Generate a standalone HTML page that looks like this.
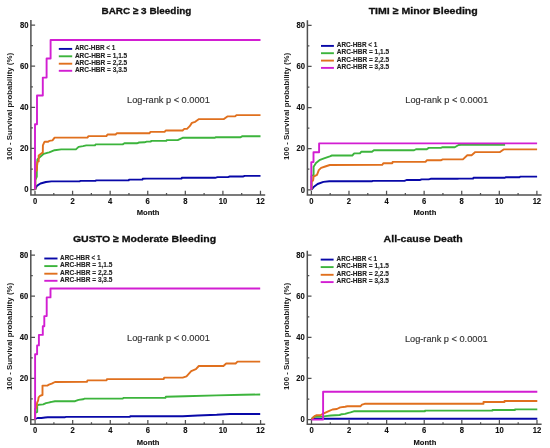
<!DOCTYPE html>
<html><head><meta charset="utf-8"><style>
html,body{margin:0;padding:0;background:#fff;}
svg{display:block;}
text{font-family:"Liberation Sans", sans-serif;}
.tk{font-size:8.3px;font-weight:bold;fill:#111;stroke:#111;stroke-width:0.12px;}
.mo{font-size:7.6px;font-weight:bold;fill:#111;stroke:#111;stroke-width:0.12px;}
.yt{font-size:7.8px;font-weight:bold;fill:#1a1a1a;}
.ti{font-size:9.8px;font-weight:bold;fill:#111;stroke:#111;stroke-width:0.3px;}
.lg{font-size:6.8px;font-weight:bold;fill:#222;stroke:#222;stroke-width:0.12px;}
.lr{font-size:9.4px;fill:#333;stroke:#333;stroke-width:0.15px;}
</style></head><body>
<div style="will-change:transform;width:550px;height:448px;background:#fff"><svg width="550" height="448" viewBox="0 0 550 448">
<rect width="550" height="448" fill="#fff"/>
<path d="M30.9 20V194.9H265.2" fill="none" stroke="#505050" stroke-width="1.5"/>
<path d="M30.9 189.6h4.2M30.9 169.04h2M30.9 148.48h4.2M30.9 127.92h2M30.9 107.36h4.2M30.9 86.8h2M30.9 66.24h4.2M30.9 45.68h2M30.9 25.12h4.2M35 194.9v-4.2M53.79 194.9v-2M72.58 194.9v-4.2M91.37 194.9v-2M110.16 194.9v-4.2M128.95 194.9v-2M147.74 194.9v-4.2M166.53 194.9v-2M185.32 194.9v-4.2M204.11 194.9v-2M222.9 194.9v-4.2M241.69 194.9v-2M260.48 194.9v-4.2" fill="none" stroke="#505050" stroke-width="1.25"/>
<text x="28.4" y="192.4" text-anchor="end" class="tk" textLength="4.25" lengthAdjust="spacingAndGlyphs">0</text>
<text x="28.4" y="151.28" text-anchor="end" class="tk" textLength="8.5" lengthAdjust="spacingAndGlyphs">20</text>
<text x="28.4" y="110.16" text-anchor="end" class="tk" textLength="8.5" lengthAdjust="spacingAndGlyphs">40</text>
<text x="28.4" y="69.04" text-anchor="end" class="tk" textLength="8.5" lengthAdjust="spacingAndGlyphs">60</text>
<text x="28.4" y="27.92" text-anchor="end" class="tk" textLength="8.5" lengthAdjust="spacingAndGlyphs">80</text>
<text x="35" y="204" text-anchor="middle" class="tk" textLength="4.25" lengthAdjust="spacingAndGlyphs">0</text>
<text x="72.58" y="204" text-anchor="middle" class="tk" textLength="4.25" lengthAdjust="spacingAndGlyphs">2</text>
<text x="110.16" y="204" text-anchor="middle" class="tk" textLength="4.25" lengthAdjust="spacingAndGlyphs">4</text>
<text x="147.74" y="204" text-anchor="middle" class="tk" textLength="4.25" lengthAdjust="spacingAndGlyphs">6</text>
<text x="185.32" y="204" text-anchor="middle" class="tk" textLength="4.25" lengthAdjust="spacingAndGlyphs">8</text>
<text x="222.9" y="204" text-anchor="middle" class="tk" textLength="8.5" lengthAdjust="spacingAndGlyphs">10</text>
<text x="260.48" y="204" text-anchor="middle" class="tk" textLength="8.5" lengthAdjust="spacingAndGlyphs">12</text>
<text x="148.1" y="215.2" text-anchor="middle" class="mo">Month</text>
<text transform="translate(11.6 106.6) rotate(-90)" text-anchor="middle" class="yt" textLength="107.2" lengthAdjust="spacingAndGlyphs">100 - Survival probability (%)</text>
<text x="146.4" y="14.2" text-anchor="middle" class="ti" textLength="89.8" lengthAdjust="spacingAndGlyphs">BARC ≥ 3 Bleeding</text>
<path d="M58.8 48.9H72.2" stroke="#0808a8" stroke-width="1.9"/>
<text x="74.9" y="50.1" class="lg" textLength="40.5" lengthAdjust="spacingAndGlyphs">ARC-HBR &lt; 1</text>
<path d="M58.8 56.3H72.2" stroke="#3cb43c" stroke-width="1.9"/>
<text x="74.9" y="57.5" class="lg" textLength="52.3" lengthAdjust="spacingAndGlyphs">ARC-HBR = 1,1.5</text>
<path d="M58.8 63.7H72.2" stroke="#e0701e" stroke-width="1.9"/>
<text x="74.9" y="64.9" class="lg" textLength="52.3" lengthAdjust="spacingAndGlyphs">ARC-HBR = 2,2.5</text>
<path d="M58.8 70.8H72.2" stroke="#d21ed2" stroke-width="1.9"/>
<text x="74.9" y="72" class="lg" textLength="52.3" lengthAdjust="spacingAndGlyphs">ARC-HBR = 3,3.5</text>
<text x="127" y="102.7" class="lr" textLength="82.8" lengthAdjust="spacingAndGlyphs">Log-rank p &lt; 0.0001</text>
<path d="M35.3 189.3 36 187.5 37.2 185.6 40.5 183.5 45.9 182 51.4 181.4 79.7 181.4 80.2 180.9 95.5 180.9 95.8 180.4 128.7 180.4 129 179.6 142.4 179.6 142.7 178.8 146.6 178.6 181.5 178.6 181.8 177.8 215.1 177.8 217.5 177.1 227.9 177.1 229.7 176.5 243 176.5 244.8 175.9 260.5 175.9" fill="none" stroke="#0808a8" stroke-width="1.9" stroke-linejoin="round"/>
<path d="M35.3 189.5 35.3 180 36.8 176.6 36.8 170.7 37.2 163 37.4 159.4 40 157 43.7 153.8 48 152.7 49.2 152.4 54.6 150.2 61.2 149.4 75.9 149.4 78.6 146.9 83 146.1 86.3 145.4 94.9 145.4 95.5 144.4 122.7 144.4 124.4 143.3 136.9 143.3 139.1 142.5 144.5 142.3 146.7 141.6 150.5 141.6 151.5 140.9 166.3 140.9 166.8 140.1 177.7 140.1 182.6 137.8 215.1 137.8 215.5 137.2 240.7 137.2 242.5 136.2 260.5 136.2" fill="none" stroke="#3cb43c" stroke-width="1.9" stroke-linejoin="round"/>
<path d="M35.3 189.5 35.3 171 36.7 170.5 37.4 162 38.7 161.4 38.7 155.4 42 153 42.8 152.8 42.9 145.3 44.3 142.2 44.6 141.8 48.1 141.8 49.2 140.9 52.5 140.4 54.6 137.6 87.4 137.6 88.5 136.1 106.4 136.1 107.5 134.5 115.6 134.5 116.7 133.3 149.4 133.3 150.5 131.9 164.6 131.9 165.7 130.5 182.6 130.5 184.3 128.9 187 128.9 189.7 126.2 191.9 122.9 195.2 121.8 199 119.1 223.9 119.1 227.4 116.4 234.9 116.4 236.7 115.1 260.5 115.1" fill="none" stroke="#e0701e" stroke-width="1.9" stroke-linejoin="round"/>
<path d="M35 189.6 35 124.3 37 124.3 37 95.5 42.8 95.5 42.8 77.6 46.6 77.6 46.6 58.5 50.6 58.5 50.6 40 260.5 40" fill="none" stroke="#d21ed2" stroke-width="1.9" stroke-linejoin="round"/>
<path d="M307.4 20.3V195H541.6" fill="none" stroke="#505050" stroke-width="1.5"/>
<path d="M307.4 189.8h4.2M307.4 169.24h2M307.4 148.68h4.2M307.4 128.12h2M307.4 107.56h4.2M307.4 87h2M307.4 66.44h4.2M307.4 45.88h2M307.4 25.32h4.2M311.4 195v-4.2M330.19 195v-2M348.98 195v-4.2M367.77 195v-2M386.56 195v-4.2M405.35 195v-2M424.14 195v-4.2M442.93 195v-2M461.72 195v-4.2M480.51 195v-2M499.3 195v-4.2M518.09 195v-2M536.88 195v-4.2" fill="none" stroke="#505050" stroke-width="1.25"/>
<text x="304.9" y="192.6" text-anchor="end" class="tk" textLength="4.25" lengthAdjust="spacingAndGlyphs">0</text>
<text x="304.9" y="151.48" text-anchor="end" class="tk" textLength="8.5" lengthAdjust="spacingAndGlyphs">20</text>
<text x="304.9" y="110.36" text-anchor="end" class="tk" textLength="8.5" lengthAdjust="spacingAndGlyphs">40</text>
<text x="304.9" y="69.24" text-anchor="end" class="tk" textLength="8.5" lengthAdjust="spacingAndGlyphs">60</text>
<text x="304.9" y="28.12" text-anchor="end" class="tk" textLength="8.5" lengthAdjust="spacingAndGlyphs">80</text>
<text x="311.4" y="204.1" text-anchor="middle" class="tk" textLength="4.25" lengthAdjust="spacingAndGlyphs">0</text>
<text x="348.98" y="204.1" text-anchor="middle" class="tk" textLength="4.25" lengthAdjust="spacingAndGlyphs">2</text>
<text x="386.56" y="204.1" text-anchor="middle" class="tk" textLength="4.25" lengthAdjust="spacingAndGlyphs">4</text>
<text x="424.14" y="204.1" text-anchor="middle" class="tk" textLength="4.25" lengthAdjust="spacingAndGlyphs">6</text>
<text x="461.72" y="204.1" text-anchor="middle" class="tk" textLength="4.25" lengthAdjust="spacingAndGlyphs">8</text>
<text x="499.3" y="204.1" text-anchor="middle" class="tk" textLength="8.5" lengthAdjust="spacingAndGlyphs">10</text>
<text x="536.88" y="204.1" text-anchor="middle" class="tk" textLength="8.5" lengthAdjust="spacingAndGlyphs">12</text>
<text x="424.9" y="215.3" text-anchor="middle" class="mo">Month</text>
<text transform="translate(289.2 106.5) rotate(-90)" text-anchor="middle" class="yt" textLength="107.2" lengthAdjust="spacingAndGlyphs">100 - Survival probability (%)</text>
<text x="423.2" y="14.2" text-anchor="middle" class="ti" textLength="109.1" lengthAdjust="spacingAndGlyphs">TIMI ≥ Minor Bleeding</text>
<path d="M321 45.9H333.9" stroke="#0808a8" stroke-width="1.9"/>
<text x="336.8" y="47.1" class="lg" textLength="40.5" lengthAdjust="spacingAndGlyphs">ARC-HBR &lt; 1</text>
<path d="M321 53.2H333.9" stroke="#3cb43c" stroke-width="1.9"/>
<text x="336.8" y="54.4" class="lg" textLength="52.3" lengthAdjust="spacingAndGlyphs">ARC-HBR = 1,1.5</text>
<path d="M321 60.6H333.9" stroke="#e0701e" stroke-width="1.9"/>
<text x="336.8" y="61.8" class="lg" textLength="52.3" lengthAdjust="spacingAndGlyphs">ARC-HBR = 2,2.5</text>
<path d="M321 67.9H333.9" stroke="#d21ed2" stroke-width="1.9"/>
<text x="336.8" y="69.1" class="lg" textLength="52.3" lengthAdjust="spacingAndGlyphs">ARC-HBR = 3,3.5</text>
<text x="405.3" y="102.6" class="lr" textLength="82.8" lengthAdjust="spacingAndGlyphs">Log-rank p &lt; 0.0001</text>
<path d="M311.5 189.6 313.6 187.1 317.6 184 323.4 181.9 329.3 181.3 372 181.3 372.5 180.9 404.5 180.9 406.5 180 419.8 180 421.7 179.4 428.7 179.4 430.6 178.8 457.4 178.8 459.3 178.6 473.1 178.6 473.5 177.7 505.1 177.7 505.5 177.3 519.6 177.3 520 176.6 537.1 176.6" fill="none" stroke="#0808a8" stroke-width="1.9" stroke-linejoin="round"/>
<path d="M311.5 189.6 311.5 176 313.6 174.9 313.6 166.7 316 163 320 159.8 324 158.3 329.8 156.3 331.9 155.5 352.3 155.5 354.2 153.4 359.9 153.4 361.2 151.8 372 151.8 373.9 150.3 414.1 150.3 416 149.2 426.8 149.2 428.7 147.9 440.8 147.9 442.7 147.2 454.8 147.2 458.6 145 461 144.8 505.1 144.8" fill="none" stroke="#3cb43c" stroke-width="1.9" stroke-linejoin="round"/>
<path d="M311.5 189.6 311.5 181.5 312.6 181 313.2 180 313.6 176.6 317 174.9 318.8 170.2 321.1 167.9 325.2 166.5 329.8 165 382.2 164.8 383.5 163.2 392.4 163.2 392.6 161.9 425.5 161.9 426.8 160.3 440.8 160.3 442.7 159.4 462.9 159.4 467.3 155.2 471.6 155.2 475.3 152.1 500 152.1 503.6 149.4 537.1 149.4" fill="none" stroke="#e0701e" stroke-width="1.9" stroke-linejoin="round"/>
<path d="M311.3 189.8 311.3 162.1 313.5 162.1 313.5 152.3 319.1 152.3 319.1 143.4 537.1 143.4" fill="none" stroke="#d21ed2" stroke-width="1.9" stroke-linejoin="round"/>
<path d="M30.8 250V424.3H265.2" fill="none" stroke="#505050" stroke-width="1.5"/>
<path d="M30.8 419.5h4.2M30.8 398.94h2M30.8 378.38h4.2M30.8 357.82h2M30.8 337.26h4.2M30.8 316.7h2M30.8 296.14h4.2M30.8 275.58h2M30.8 255.02h4.2M35.1 424.3v-4.2M53.89 424.3v-2M72.68 424.3v-4.2M91.47 424.3v-2M110.26 424.3v-4.2M129.05 424.3v-2M147.84 424.3v-4.2M166.63 424.3v-2M185.42 424.3v-4.2M204.21 424.3v-2M223 424.3v-4.2M241.79 424.3v-2M260.58 424.3v-4.2" fill="none" stroke="#505050" stroke-width="1.25"/>
<text x="28.3" y="422.3" text-anchor="end" class="tk" textLength="4.25" lengthAdjust="spacingAndGlyphs">0</text>
<text x="28.3" y="381.18" text-anchor="end" class="tk" textLength="8.5" lengthAdjust="spacingAndGlyphs">20</text>
<text x="28.3" y="340.06" text-anchor="end" class="tk" textLength="8.5" lengthAdjust="spacingAndGlyphs">40</text>
<text x="28.3" y="298.94" text-anchor="end" class="tk" textLength="8.5" lengthAdjust="spacingAndGlyphs">60</text>
<text x="28.3" y="257.82" text-anchor="end" class="tk" textLength="8.5" lengthAdjust="spacingAndGlyphs">80</text>
<text x="35.1" y="433.4" text-anchor="middle" class="tk" textLength="4.25" lengthAdjust="spacingAndGlyphs">0</text>
<text x="72.68" y="433.4" text-anchor="middle" class="tk" textLength="4.25" lengthAdjust="spacingAndGlyphs">2</text>
<text x="110.26" y="433.4" text-anchor="middle" class="tk" textLength="4.25" lengthAdjust="spacingAndGlyphs">4</text>
<text x="147.84" y="433.4" text-anchor="middle" class="tk" textLength="4.25" lengthAdjust="spacingAndGlyphs">6</text>
<text x="185.42" y="433.4" text-anchor="middle" class="tk" textLength="4.25" lengthAdjust="spacingAndGlyphs">8</text>
<text x="223" y="433.4" text-anchor="middle" class="tk" textLength="8.5" lengthAdjust="spacingAndGlyphs">10</text>
<text x="260.58" y="433.4" text-anchor="middle" class="tk" textLength="8.5" lengthAdjust="spacingAndGlyphs">12</text>
<text x="148.1" y="445.3" text-anchor="middle" class="mo">Month</text>
<text transform="translate(11.6 336.5) rotate(-90)" text-anchor="middle" class="yt" textLength="107.2" lengthAdjust="spacingAndGlyphs">100 - Survival probability (%)</text>
<text x="144.5" y="242.3" text-anchor="middle" class="ti" textLength="143.2" lengthAdjust="spacingAndGlyphs">GUSTO ≥ Moderate Bleeding</text>
<path d="M44.3 258.5H57.5" stroke="#0808a8" stroke-width="1.9"/>
<text x="60.1" y="259.7" class="lg" textLength="40.5" lengthAdjust="spacingAndGlyphs">ARC-HBR &lt; 1</text>
<path d="M44.3 266.1H57.5" stroke="#3cb43c" stroke-width="1.9"/>
<text x="60.1" y="267.3" class="lg" textLength="52.3" lengthAdjust="spacingAndGlyphs">ARC-HBR = 1,1.5</text>
<path d="M44.3 273.7H57.5" stroke="#e0701e" stroke-width="1.9"/>
<text x="60.1" y="274.9" class="lg" textLength="52.3" lengthAdjust="spacingAndGlyphs">ARC-HBR = 2,2.5</text>
<path d="M44.3 280.8H57.5" stroke="#d21ed2" stroke-width="1.9"/>
<text x="60.1" y="282" class="lg" textLength="52.3" lengthAdjust="spacingAndGlyphs">ARC-HBR = 3,3.5</text>
<text x="127" y="340.9" class="lr" textLength="82.8" lengthAdjust="spacingAndGlyphs">Log-rank p &lt; 0.0001</text>
<path d="M35.3 419 37.6 418 41.4 418 45.1 417.5 47.8 417.2 65.1 417.2 66.2 416.9 129.8 416.9 130.2 416.3 182.7 416.3 197.8 415.5 216.7 414.8 230 414 260.2 414" fill="none" stroke="#0808a8" stroke-width="1.9" stroke-linejoin="round"/>
<path d="M35.1 419.5 35.1 413 37.2 411.9 37.2 405.3 38.6 404.8 43.2 404.4 46 403.2 49.8 402.3 51.7 401.9 55 401.2 75.1 401.2 78.5 399.9 83 399.3 84.6 398.6 122.9 398.6 123.3 397.9 165.4 397.9 165.8 396.7 185 396.3 216.7 395.4 243.2 394.8 260.2 394.5" fill="none" stroke="#3cb43c" stroke-width="1.9" stroke-linejoin="round"/>
<path d="M35.1 419.5 35.1 409 36.2 408 37.2 402.5 38.1 400.6 38.6 397.3 40 395.9 42.3 395 42.5 395 42.5 385.6 47.3 385.6 48.9 384.7 51.7 383.7 55 382 86.9 381.8 87.5 380.4 106.6 380.4 106.9 379.1 163.8 379.1 164.2 377.6 182.7 377.6 186.5 376.4 191.2 371.1 195.9 369.2 198.8 366 223.4 366 226.2 363.5 235.6 363.5 237.5 361.6 260.2 361.6" fill="none" stroke="#e0701e" stroke-width="1.9" stroke-linejoin="round"/>
<path d="M35.1 419.5 35.1 354.3 37.1 354.3 37.1 345.4 38.9 345.4 38.9 334.9 42.8 334.9 42.8 326.2 44.3 326.2 44.3 316.1 46.7 316.1 46.7 297.4 50.5 297.4 50.5 288.5 260.2 288.5" fill="none" stroke="#d21ed2" stroke-width="1.9" stroke-linejoin="round"/>
<path d="M307.3 250.8V424.3H541.6" fill="none" stroke="#505050" stroke-width="1.5"/>
<path d="M307.3 419.6h4.2M307.3 399.04h2M307.3 378.48h4.2M307.3 357.92h2M307.3 337.36h4.2M307.3 316.8h2M307.3 296.24h4.2M307.3 275.68h2M307.3 255.12h4.2M311.5 424.3v-4.2M330.29 424.3v-2M349.08 424.3v-4.2M367.87 424.3v-2M386.66 424.3v-4.2M405.45 424.3v-2M424.24 424.3v-4.2M443.03 424.3v-2M461.82 424.3v-4.2M480.61 424.3v-2M499.4 424.3v-4.2M518.19 424.3v-2M536.98 424.3v-4.2" fill="none" stroke="#505050" stroke-width="1.25"/>
<text x="304.8" y="422.4" text-anchor="end" class="tk" textLength="4.25" lengthAdjust="spacingAndGlyphs">0</text>
<text x="304.8" y="381.28" text-anchor="end" class="tk" textLength="8.5" lengthAdjust="spacingAndGlyphs">20</text>
<text x="304.8" y="340.16" text-anchor="end" class="tk" textLength="8.5" lengthAdjust="spacingAndGlyphs">40</text>
<text x="304.8" y="299.04" text-anchor="end" class="tk" textLength="8.5" lengthAdjust="spacingAndGlyphs">60</text>
<text x="304.8" y="257.92" text-anchor="end" class="tk" textLength="8.5" lengthAdjust="spacingAndGlyphs">80</text>
<text x="311.5" y="433.4" text-anchor="middle" class="tk" textLength="4.25" lengthAdjust="spacingAndGlyphs">0</text>
<text x="349.08" y="433.4" text-anchor="middle" class="tk" textLength="4.25" lengthAdjust="spacingAndGlyphs">2</text>
<text x="386.66" y="433.4" text-anchor="middle" class="tk" textLength="4.25" lengthAdjust="spacingAndGlyphs">4</text>
<text x="424.24" y="433.4" text-anchor="middle" class="tk" textLength="4.25" lengthAdjust="spacingAndGlyphs">6</text>
<text x="461.82" y="433.4" text-anchor="middle" class="tk" textLength="4.25" lengthAdjust="spacingAndGlyphs">8</text>
<text x="499.4" y="433.4" text-anchor="middle" class="tk" textLength="8.5" lengthAdjust="spacingAndGlyphs">10</text>
<text x="536.98" y="433.4" text-anchor="middle" class="tk" textLength="8.5" lengthAdjust="spacingAndGlyphs">12</text>
<text x="424.9" y="445.3" text-anchor="middle" class="mo">Month</text>
<text transform="translate(289.2 336.5) rotate(-90)" text-anchor="middle" class="yt" textLength="107.2" lengthAdjust="spacingAndGlyphs">100 - Survival probability (%)</text>
<text x="423.2" y="242.2" text-anchor="middle" class="ti" textLength="79.2" lengthAdjust="spacingAndGlyphs">All-cause Death</text>
<path d="M320.7 259.6H333.6" stroke="#0808a8" stroke-width="1.9"/>
<text x="336.6" y="260.8" class="lg" textLength="40.5" lengthAdjust="spacingAndGlyphs">ARC-HBR &lt; 1</text>
<path d="M320.7 267.1H333.6" stroke="#3cb43c" stroke-width="1.9"/>
<text x="336.6" y="268.3" class="lg" textLength="52.3" lengthAdjust="spacingAndGlyphs">ARC-HBR = 1,1.5</text>
<path d="M320.7 274.8H333.6" stroke="#e0701e" stroke-width="1.9"/>
<text x="336.6" y="276" class="lg" textLength="52.3" lengthAdjust="spacingAndGlyphs">ARC-HBR = 2,2.5</text>
<path d="M320.7 282.1H333.6" stroke="#d21ed2" stroke-width="1.9"/>
<text x="336.6" y="283.3" class="lg" textLength="52.3" lengthAdjust="spacingAndGlyphs">ARC-HBR = 3,3.5</text>
<text x="404.9" y="341.6" class="lr" textLength="82.8" lengthAdjust="spacingAndGlyphs">Log-rank p &lt; 0.0001</text>
<path d="M311.5 418.8 537.3 418.8" fill="none" stroke="#0808a8" stroke-width="1.9" stroke-linejoin="round"/>
<path d="M311.5 419.5 312.9 417.7 314.5 416.9 323.3 416.6 325.5 416.1 330.9 415.5 339.6 415 341.8 414.2 345.1 413.9 348.4 412.8 350.5 412.3 353.8 411.3 425 411.3 425 410.6 492.5 410.6 492.5 410 515 410 515 409.4 537.3 409.4" fill="none" stroke="#3cb43c" stroke-width="1.9" stroke-linejoin="round"/>
<path d="M311.5 419.5 314.5 416.1 316.2 415.3 320.5 415.3 322.2 414.2 326 412.3 329.3 410.9 332.5 409.5 336.9 409 340.2 407.4 345.1 406.8 347.3 406.3 360.4 406.3 362 404.6 364.7 403.8 366.1 403.7 483.5 403.7 483.5 402 504.5 402 504.5 401 537.3 401" fill="none" stroke="#e0701e" stroke-width="1.9" stroke-linejoin="round"/>
<path d="M311.5 419.6 323.1 419.6 323.1 391.8 537.3 391.8" fill="none" stroke="#d21ed2" stroke-width="1.9" stroke-linejoin="round"/>
</svg></div>
</body></html>
